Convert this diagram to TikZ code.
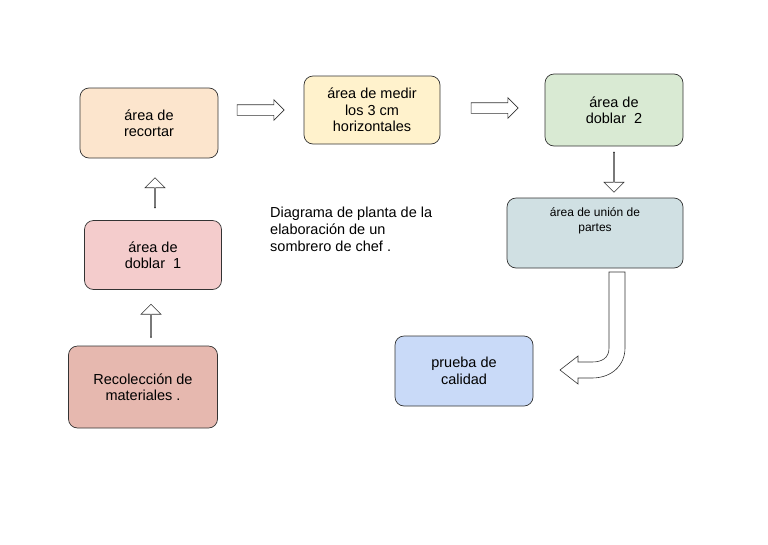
\documentclass[tikz,border=0pt]{standalone}
\usepackage{fontspec}
\setmainfont{Liberation Sans}
\usetikzlibrary{shapes.arrows}
\definecolor{cpeach}{HTML}{FCE5CD}
\definecolor{cyel}{HTML}{FFF2CC}
\definecolor{cgreen}{HTML}{D9EAD3}
\definecolor{cteal}{HTML}{D0E0E3}
\definecolor{cpink}{HTML}{F4CCCC}
\definecolor{cred}{HTML}{E6B8AF}
\definecolor{cblue}{HTML}{C9DAF8}
\begin{document}
\begin{tikzpicture}[x=1pt,y=-1pt,
  box/.style={draw=black!80, rounded corners=9pt, line width=0.7pt, align=center, font=\fontsize{14.5}{16.5}\selectfont, inner sep=0pt},
  barrow/.style={single arrow, draw=black!80, fill=white, line width=0.6pt, single arrow head extend=5pt, inner sep=0pt, minimum width=20pt}]
\useasboundingbox (0,0) rectangle (768,544);
\node[box, fill=cpeach, minimum width=138pt, minimum height=70pt] (rec) at (149,123) {área de\\recortar};
\node[box, fill=cyel, minimum width=136pt, minimum height=68pt] (med) at (372,110) {área de medir\\los 3 cm\\horizontales};
\node[box, fill=cgreen, minimum width=138pt, minimum height=72pt] (d2) at (614,110) {área de\\doblar\ \ 2};
\node[box, fill=cteal, minimum width=176pt, minimum height=70pt, font=\fontsize{12}{14.5}\selectfont] (un) at (595,233) {área de unión de\\partes\\[12pt]};
\node[box, fill=cpink, minimum width=137pt, minimum height=69pt] (d1) at (153,255) {área de\\doblar\ \ 1};
\node[box, fill=cred, minimum width=149pt, minimum height=82pt] (col) at (143,387) {Recolección de\\materiales .};
\node[box, fill=cblue, minimum width=138pt, minimum height=70pt] (pr) at (464,371) {prueba de\\calidad};
\node[align=left, anchor=north west, font=\fontsize{14.5}{17}\selectfont, inner sep=0pt] (title) at (270,207) {Diagrama de planta de la\\elaboración de un\\sombrero de chef .};
\node[barrow, minimum height=47pt] (a1) at (258,110) {\rule{0pt}{10pt}};
\node[barrow, minimum height=47pt] (a2) at (492,108) {\rule{0pt}{10pt}};
\node[barrow, minimum height=40pt, shape border rotate=270] (a3) at (614,172) {\rule{0pt}{14pt}};
\node[barrow, minimum height=30pt, shape border rotate=90] (a4) at (155,193) {\rule{0pt}{12pt}};
\node[barrow, minimum height=33pt, shape border rotate=90] (a5) at (151,321) {\rule{0pt}{12pt}};
\draw[black!80, fill=white, line width=0.6pt] (609,272) -- (609,348) .. controls (609,358) and (602,362) .. (592,362) -- (578,362) -- (578,356) -- (560,370) -- (578,384) -- (578,378) -- (592,378) .. controls (612,378) and (625,365) .. (625,348) -- (625,272) -- cycle;
\end{tikzpicture}
\end{document}
